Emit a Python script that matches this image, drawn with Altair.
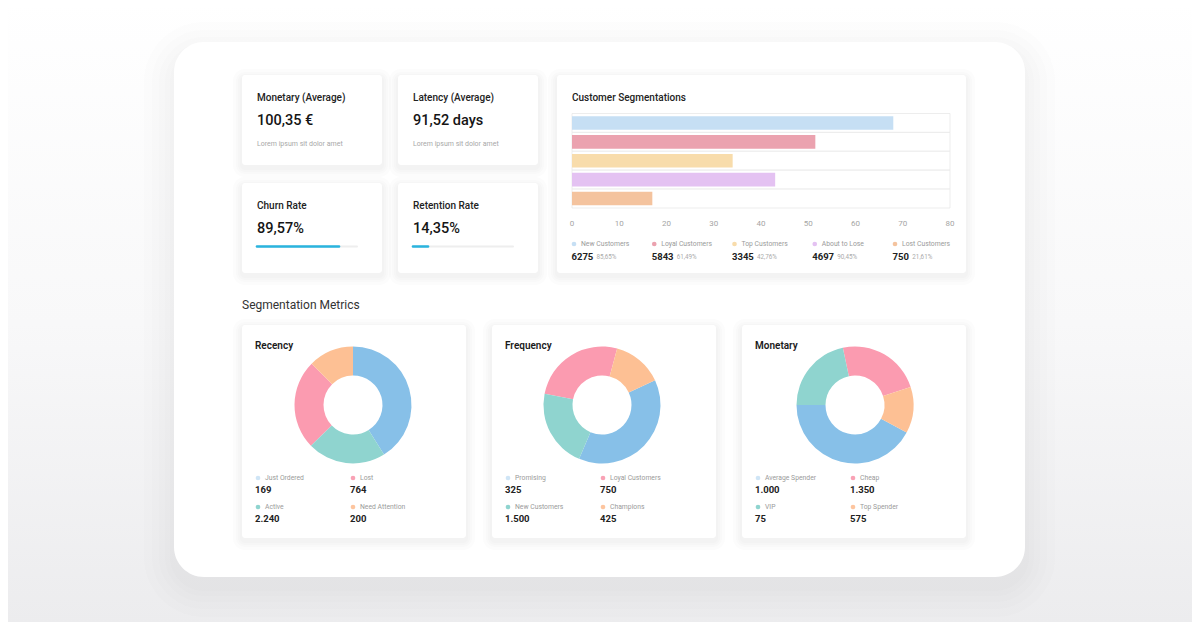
import altair as alt
import pandas as pd
import math

# ---------------- data ----------------
kpi_titles = ["Monetary (Average)", "Latency (Average)", "Churn Rate", "Retention Rate"]
kpi_values = ["100,35 €", "91,52 days", "89,57%", "14,35%"]
kpi_notes = ["Lorem ipsum sit dolor amet", "Lorem ipsum sit dolor amet", "", ""]
progress_fill = [82, 15]          # churn / retention progress bars as drawn (of 100)

seg_names = ["New Customers", "Loyal Customers", "Top Customers", "About to Lose", "Lost Customers"]
seg_bar = [68, 51.5, 34, 43, 17]
seg_counts = ["6275", "5843", "3345", "4697", "750"]
seg_pcts = ["85,65%", "61,49%", "42,76%", "90,45%", "21,61%"]
seg_ticks = [0, 10, 20, 30, 40, 50, 60, 70, 80]

rec_names = ["Just Ordered", "Lost", "Active", "Need Attention"]
rec_values = ["169", "764", "2.240", "200"]
rec_slices = [148, 89, 78, 45]      # degrees: blue, pink, teal, orange

frq_names = ["Promising", "Loyal Customers", "New Customers", "Champions"]
frq_values = ["325", "750", "1.500", "425"]
frq_slices = [138, 94, 78, 50]

mon_names = ["Average Spender", "Cheap", "VIP", "Top Spender"]
mon_values = ["1.000", "1.350", "75", "575"]
mon_slices = [152, 84, 78, 46]

# ---------------- styles ----------------
FONT = "Roboto"
seg_colors = ["#c6dff4", "#eba2af", "#f8dcab", "#e4c2f2", "#f4c39e"]
donut_colors = ["#87c0e8", "#fb9bb0", "#8fd4cf", "#fdc094"]
donut_dot_colors = ["#cfe5f6", "#f9a2b5", "#8fd4cf", "#fdc59f"]
slice_order = [0, 2, 1, 3]  # clockwise drawing order of legend items

OX, OY = 8, 8
def PX(v):
    return v - OX
def PY(v):
    return v - OY

layers = []

# background gradient
bg = alt.Chart(pd.DataFrame({"a": [0]})).mark_rect(
    fill=alt.LinearGradient(gradient="linear", x1=0, y1=0, x2=0, y2=1,
                            stops=[alt.GradientStop(color="#ffffff", offset=0),
                                   alt.GradientStop(color="#f8f8f9", offset=0.5),
                                   alt.GradientStop(color="#ebebed", offset=1)])
).encode(x=alt.value(-10), x2=alt.value(1200), y=alt.value(-10), y2=alt.value(640))
layers.append(bg)

def boxes_layer(boxes, expand, dy, fill, opacity, radius):
    df = pd.DataFrame([{"x": PX(b[0] - expand), "x2": PX(b[2] + expand),
                        "y": PY(b[1] - expand + dy), "y2": PY(b[3] + expand + dy)} for b in boxes])
    return alt.Chart(df).mark_rect(fill=fill, opacity=opacity, cornerRadius=radius).encode(
        x=alt.X("x:Q", scale=None), x2="x2:Q", y=alt.Y("y:Q", scale=None), y2="y2:Q")

panel = [(174, 42, 1025, 577)]
for e in [30, 22, 15, 9, 4]:
    layers.append(boxes_layer(panel, e, 10, "#8a8a95", 0.018, 30 + e))
layers.append(boxes_layer(panel, 0, 0, "#ffffff", 1, 30))

cards = [(242, 75, 382, 165), (398, 75, 538, 165), (242, 183, 382, 273), (398, 183, 538, 273),
         (557, 75, 966, 273), (242, 325, 466, 538), (492, 325, 716, 538), (742, 325, 966, 538)]
for e in [9, 6, 4, 2]:
    layers.append(boxes_layer(cards, e, 3, "#70707a", 0.018, 3 + e))
layers.append(boxes_layer(cards, 0, 0, "#ffffff", 1, 3))

# ---------------- KPI cards ----------------
kpi = pd.DataFrame({"title": kpi_titles, "value": kpi_values, "note": kpi_notes,
                    "col": [0, 1, 0, 1], "row": [0, 0, 1, 1]})
kx = alt.X("col:Q", scale=alt.Scale(domain=[0, 1], range=[PX(257), PX(413)]), axis=None)
ky = alt.Y("row:Q", scale=alt.Scale(domain=[0, 1], range=[PY(97.5), PY(205.5)]), axis=None)
base_k = alt.Chart(kpi)
layers.append(base_k.mark_text(align="left", baseline="middle", font=FONT, fontSize=10,
                               fontWeight=500, color="#222222").encode(x=kx, y=ky, text="title:N"))
layers.append(base_k.mark_text(align="left", baseline="middle", font=FONT, fontSize=14.5,
                               fontWeight=500, color="#151515", dy=23.5).encode(x=kx, y=ky, text="value:N"))
layers.append(base_k.mark_text(align="left", baseline="middle", font=FONT, fontSize=7,
                               color="#a8a8a8", dy=46.5).encode(x=kx, y=ky, text="note:N"))

for i, left in enumerate([257, 413]):
    sc = alt.Scale(domain=[0, 100], range=[PX(left), PX(left + 100)])
    track = pd.DataFrame({"a": [0], "b": [100]})
    fill = pd.DataFrame({"a": [0], "b": [progress_fill[i]]})
    layers.append(alt.Chart(track).mark_rule(strokeWidth=2, color="#eeeeee", strokeCap="round").encode(
        x=alt.X("a:Q", scale=sc, axis=None), x2="b:Q", y=alt.value(PY(246.5))))
    layers.append(alt.Chart(fill).mark_rule(strokeWidth=2.6, color="#2ab4de", strokeCap="round").encode(
        x=alt.X("a:Q", scale=sc, axis=None), x2="b:Q", y=alt.value(PY(246.5))))

# ---------------- Customer segmentation bars ----------------
seg = pd.DataFrame({"name": seg_names, "v": seg_bar, "count": seg_counts, "pct": seg_pcts,
                    "i": list(range(len(seg_names)))})
bx = alt.Scale(domain=[0, 80], range=[PX(572), PX(950)], nice=False, zero=True)
by = alt.Scale(domain=seg_names, range=[PY(113.5), PY(208)], paddingInner=0, paddingOuter=0)

layers.append(alt.Chart(pd.DataFrame({"t": ["Customer Segmentations"]})).mark_text(
    align="left", baseline="middle", font=FONT, fontSize=10, fontWeight=500, color="#222222"
).encode(x=alt.value(PX(572)), y=alt.value(PY(97.5)), text="t:N"))

layers.append(alt.Chart(seg).transform_calculate(lo="0", hi="80").mark_rect(
    fill="#ffffff", stroke="#e8e8e8", strokeWidth=0.8).encode(
    x=alt.X("lo:Q", scale=bx, axis=None), x2="hi:Q", y=alt.Y("name:N", scale=by, axis=None)))
layers.append(alt.Chart(seg).mark_bar(height=alt.RelativeBandSize(0.72)).encode(
    x=alt.X("v:Q", scale=bx, axis=None), y=alt.Y("name:N", scale=by, axis=None),
    color=alt.Color("name:N", scale=alt.Scale(domain=seg_names, range=seg_colors), legend=None)))
layers.append(alt.Chart(pd.DataFrame({"t": seg_ticks})).mark_text(
    baseline="middle", font=FONT, fontSize=8, color="#a5a5a5").encode(
    x=alt.X("t:Q", scale=bx, axis=None), y=alt.value(PY(224)), text="t:Q"))

lx = alt.Scale(domain=[0, 4], range=[PX(574), PX(895)])
layers.append(alt.Chart(seg).mark_circle(size=22, opacity=1).encode(
    x=alt.X("i:Q", scale=lx, axis=None), y=alt.value(PY(244)),
    color=alt.Color("name:N", scale=alt.Scale(domain=seg_names, range=seg_colors), legend=None)))
layers.append(alt.Chart(seg).mark_text(align="left", baseline="middle", dx=7, font=FONT,
                                       fontSize=6.8, color="#9a9a9a").encode(
    x=alt.X("i:Q", scale=lx, axis=None), y=alt.value(PY(244)), text="name:N"))
layers.append(alt.Chart(seg).mark_text(align="left", baseline="middle", dx=-2.5, font=FONT,
                                       fontSize=9.5, fontWeight="bold", color="#222222").encode(
    x=alt.X("i:Q", scale=lx, axis=None), y=alt.value(PY(256.5)), text="count:N"))
layers.append(alt.Chart(seg).transform_calculate(
    xp="datum.i + (length(datum.count) * 5.1 + 2) / 80.25").mark_text(
    align="left", baseline="middle", font=FONT, fontSize=6.3, color="#ababab").encode(
    x=alt.X("xp:Q", scale=lx, axis=None), y=alt.value(PY(257)), text="pct:N"))

layers.append(alt.Chart(pd.DataFrame({"t": ["Segmentation Metrics"]})).mark_text(
    align="left", baseline="middle", font=FONT, fontSize=12, color="#333333"
).encode(x=alt.value(PX(242)), y=alt.value(PY(304.5)), text="t:N"))

# ---------------- donut cards ----------------
def donut(left, cx, title, names, values, slices, start_deg):
    out = []
    out.append(alt.Chart(pd.DataFrame({"t": [title]})).mark_text(
        align="left", baseline="middle", font=FONT, fontSize=10, fontWeight=600, color="#1a1a1a"
    ).encode(x=alt.value(PX(left + 13)), y=alt.value(PY(345.5)), text="t:N"))
    arcs = pd.DataFrame({"name": names, "share": slices, "k": slice_order})
    s = math.radians(start_deg)
    out.append(alt.Chart(arcs).mark_arc(innerRadius=29.5, outerRadius=58.5).encode(
        theta=alt.Theta("share:Q", stack=True, scale=alt.Scale(range=[s, s + 2 * math.pi])),
        order=alt.Order("k:Q"),
        color=alt.Color("name:N", scale=alt.Scale(domain=names, range=donut_colors), legend=None),
        x=alt.value(PX(cx)), y=alt.value(PY(405))))
    leg = pd.DataFrame({"name": names, "value": values, "col": [0, 1, 0, 1], "row": [0, 0, 1, 1]})
    x = alt.X("col:Q", scale=alt.Scale(domain=[0, 1], range=[PX(left + 16), PX(left + 111)]), axis=None)
    y = alt.Y("row:Q", scale=alt.Scale(domain=[0, 1], range=[PY(478), PY(507)]), axis=None)
    out.append(alt.Chart(leg).mark_circle(size=22, opacity=1).encode(
        x=x, y=y, color=alt.Color("name:N", scale=alt.Scale(domain=names, range=donut_dot_colors), legend=None)))
    out.append(alt.Chart(leg).mark_text(align="left", baseline="middle", dx=7, font=FONT,
                                        fontSize=6.8, color="#9a9a9a").encode(x=x, y=y, text="name:N"))
    out.append(alt.Chart(leg).mark_text(align="left", baseline="middle", dx=-3, dy=11.5, font=FONT,
                                        fontSize=9.5, fontWeight="bold", color="#222222").encode(
        x=x, y=y, text="value:N"))
    return out

layers += donut(242, 353, "Recency", rec_names, rec_values, rec_slices, 0)
layers += donut(492, 602, "Frequency", frq_names, frq_values, frq_slices, 65)
layers += donut(742, 855, "Monetary", mon_names, mon_values, mon_slices, 118)

chart = alt.layer(*layers).resolve_scale(
    x="independent", y="independent", theta="independent", color="independent"
).properties(width=1184, height=614, padding=0, autosize=alt.AutoSizeParams(type="none")
).configure_view(stroke=None).configure(background="#ffffff")

chart.save("out.html", embed_options={"renderer": "svg", "actions": False})
